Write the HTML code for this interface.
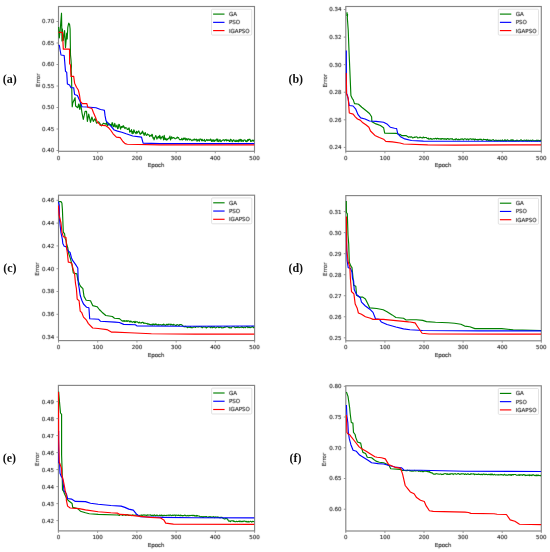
<!DOCTYPE html><html><head><meta charset="utf-8"><title>Convergence curves</title><style>html,body{margin:0;padding:0;background:#fff;}svg{display:block;}.t{font-family:"DejaVu Sans","Liberation Sans",sans-serif;font-size:5.5px;fill:#111;stroke:#111;stroke-width:0.1px;text-rendering:geometricPrecision;}.p{font-family:"Liberation Serif","DejaVu Serif",serif;font-weight:bold;font-size:12px;fill:#111;}</style></head><body>
<svg width="550" height="552" viewBox="0 0 550 552">
<rect width="550" height="552" fill="#fff"/>
<defs><clipPath id="ca"><rect x="57.9" y="6.5" width="196.6" height="144.8"/></clipPath><clipPath id="cb"><rect x="345.2" y="6.5" width="196.1" height="144.8"/></clipPath><clipPath id="cc"><rect x="57.9" y="195.2" width="196.7" height="145.4"/></clipPath><clipPath id="cd"><rect x="345.2" y="195.6" width="196.1" height="145.2"/></clipPath><clipPath id="ce"><rect x="57.8" y="385.4" width="196.8" height="145.5"/></clipPath><clipPath id="cf"><rect x="345.2" y="385.8" width="196.1" height="145.2"/></clipPath><filter id="soft" x="0" y="0" width="550" height="552" filterUnits="userSpaceOnUse"><feConvolveMatrix order="3" kernelMatrix="1 12 1 12 144 12 1 12 1" divisor="196" edgeMode="duplicate" preserveAlpha="false"/></filter></defs>
<rect x="58.5" y="6.5" width="196" height="144.8" fill="none" stroke="#858585" stroke-width="1.15"/>
<polyline points="58.6,27 59.3,38 60.2,30 61.5,13.2 62,41 62.4,29 63.3,40.5 64.6,30.5 65.5,47.7 66.7,33.2 67.2,39 67.8,27.3 68.7,23.2 69.6,24.5 70.1,29 70.5,55 71,60 71.4,66 71.2,70 71.6,80 72,100 72.2,106.8 72.8,103 75.1,97.7 75.6,106 77.8,107.7 78.7,104 79.8,109.5 80.5,102.3 81.9,112.3 83.3,119.5 85.1,111.4 86.5,111.4 87.4,121.4 88.7,114 90.5,122.3 91.9,117 93.3,121.4 95.1,118.6 96.5,123.2 98.7,121.8 101.5,125.9 103.3,123.2 106,124.1 106.61,122.39 107.22,125.87 107.84,125.52 108.45,123.12 109.06,124.33 109.68,124.16 110.29,125.18 110.9,124.5 111.45,126.06 112,122.89 112.55,122.75 113.1,126.79 113.65,125.03 114.2,126.78 114.75,123.3 115.3,125.6 115.85,127.09 116.4,126.2 117,125.02 117.6,128.58 118.2,128.49 118.8,124.44 119.4,124.53 120,127.13 120.6,129.16 121.2,126.61 121.8,127.3 122.35,126.16 122.9,127.37 123.45,125.7 124,126.84 124.55,128.1 125.1,128.6 125.65,127.56 126.2,127.77 126.75,127.93 127.3,129.5 127.9,129.54 128.5,128.96 129.1,127.9 129.7,132.05 130.3,130.94 130.9,131.58 131.5,129.63 132.1,133.73 132.7,131.6 133.25,133.33 133.8,129.78 134.35,130.8 134.9,132.66 135.45,132.61 136,133.69 136.55,131.23 137.1,133.18 137.65,132.42 138.2,131.6 138.8,130.9 139.4,132.51 140,134.17 140.6,134.24 141.2,132.85 141.8,133.49 142.4,131.08 143,132.32 143.6,133.8 144.15,135.34 144.7,133.61 145.25,132.56 145.8,134.47 146.35,135.32 146.9,135.3 147.45,133.97 148,134.39 148.55,134.83 149.1,134.9 149.65,136.57 150.2,135.68 150.75,135.4 151.3,136.2 151.85,134.33 152.4,134.73 152.95,138.24 153.5,137.6 154.07,139.79 154.63,137.78 155.2,136.69 155.77,135.48 156.33,136.94 156.9,139.11 157.47,137.97 158.03,136.72 158.6,136.4 159.16,138.27 159.72,135.39 160.28,136.88 160.85,139.13 161.41,137.47 161.97,137.03 162.53,136.26 163.09,137.74 163.65,139.84 164.22,135.41 164.78,139.28 165.34,139.6 165.9,138.2 166.47,140.05 167.05,139.35 167.62,139.68 168.19,138.29 168.77,138.49 169.34,137.85 169.92,136.07 170.49,139.98 171.06,138.54 171.64,136.76 172.21,138.22 172.78,138.13 173.36,137.51 173.93,137.46 174.51,138.38 175.08,138.79 175.65,138.74 176.23,138 176.8,138.2 177.36,137.06 177.92,137.67 178.48,137.61 179.05,138.76 179.61,139.56 180.17,139.48 180.73,139.56 181.29,139.7 181.85,138.33 182.42,139.93 182.98,139.58 183.54,138.13 184.1,139.3 184.66,138.11 185.22,138.18 185.78,140.17 186.35,138.93 186.91,138.63 187.47,140.04 188.03,139.38 188.59,138.73 189.15,139.04 189.72,140.06 190.28,139.2 190.84,139.54 191.4,140.2 191.97,140.75 192.53,140.08 193.1,139.74 193.66,140.13 194.23,138.96 194.79,139.91 195.36,139.99 195.93,139.39 196.49,139.18 197.06,141.24 197.62,140.23 198.19,139.44 198.75,140.47 199.32,141.02 199.88,138.95 200.45,138.95 201.02,139.28 201.58,140.77 202.15,139.32 202.71,140.73 203.28,140.66 203.84,140.32 204.41,139.47 204.97,141.44 205.54,140.97 206.11,140.24 206.67,139.48 207.24,140.59 207.8,139.93 208.37,140.4 208.93,139.74 209.5,140.2 210.05,140.55 210.6,139.07 211.15,139.7 211.71,141.45 212.26,141.22 212.81,139.75 213.36,141.2 213.91,139.78 214.46,141.42 215.02,140.92 215.57,140.08 216.12,139.67 216.67,139.04 217.22,141.31 217.77,139.13 218.32,141.18 218.88,141.56 219.43,140.55 219.98,139.52 220.53,141.34 221.08,141.62 221.63,140.93 222.18,140.43 222.74,140.1 223.29,140.03 223.84,139.67 224.39,140.9 224.94,140.28 225.49,139.67 226.05,139.44 226.6,140.91 227.15,139.96 227.7,140.5 228.26,140.5 228.82,140.04 229.38,141.46 229.93,141.53 230.49,139.24 231.05,139.71 231.61,140.04 232.17,141.75 232.72,141.22 233.28,140.06 233.84,139.73 234.4,140.93 234.96,141.35 235.52,141.59 236.07,140.06 236.63,141.46 237.19,140.95 237.75,140.42 238.31,141.72 238.87,139.77 239.42,141.04 239.98,139.37 240.54,139.59 241.1,141.52 241.66,139.7 242.22,141.12 242.78,140.7 243.33,141.33 243.89,140.1 244.45,140.02 245.01,139.89 245.57,141.39 246.12,140.7 246.68,141.61 247.24,141.43 247.8,139.48 248.36,140.56 248.92,139.39 249.47,139.22 250.03,139.31 250.59,141.37 251.15,141.16 251.71,141.26 252.27,139.99 252.82,140.71 253.38,141.14 253.94,140.08 254.5,140.4" fill="none" stroke="#008000" stroke-width="1.15" stroke-linejoin="round" stroke-linecap="butt" clip-path="url(#ca)"/>
<polyline points="58.6,45 59.4,45.5 60.1,50 61,55 64.2,55.5 65.5,71.4 66.7,72.3 67.4,84 69.6,85 71,87.7 73.7,87.7 74.6,94.5 77.4,95.5 80.1,101.4 81.9,106.8 87,107 96,107.7 100.5,109.5 103.3,110 104.4,110.4 105.1,115.9 106,120.7 107.6,122.9 110.9,126.2 114.2,130 117.5,131.1 121.8,132.2 126.2,133.8 132.7,136 141.5,137.1 143.1,143.1 160,143.6 254.5,143.6" fill="none" stroke="#0000ff" stroke-width="1.15" stroke-linejoin="round" stroke-linecap="butt" clip-path="url(#ca)"/>
<polyline points="58.6,32.3 62.5,32.3 63.3,49.1 69.5,49.1 69.6,63.6 70.5,65 71,76.4 73.7,76.4 74.6,83.2 76.5,87.3 78.3,90 79.5,95 80.4,101.4 82.4,103.6 86.9,103.6 87.8,107.3 91.9,108.5 93.3,112.3 96,118.6 97.4,122.3 99.6,124.1 100,125.1 105.5,125.6 108.7,127.8 110.9,130.5 113.1,133.8 116.4,137.1 120.2,137.6 122.9,141.5 125.1,143.6 127.3,144.2 160,144.9 254.5,144.9" fill="none" stroke="#ff0000" stroke-width="1.15" stroke-linejoin="round" stroke-linecap="butt" clip-path="url(#ca)"/>
<line x1="58.5" y1="151.3" x2="58.5" y2="153.3" stroke="#858585" stroke-width="0.8"/>
<line x1="97.7" y1="151.3" x2="97.7" y2="153.3" stroke="#858585" stroke-width="0.8"/>
<line x1="136.9" y1="151.3" x2="136.9" y2="153.3" stroke="#858585" stroke-width="0.8"/>
<line x1="176.1" y1="151.3" x2="176.1" y2="153.3" stroke="#858585" stroke-width="0.8"/>
<line x1="215.3" y1="151.3" x2="215.3" y2="153.3" stroke="#858585" stroke-width="0.8"/>
<line x1="254.5" y1="151.3" x2="254.5" y2="153.3" stroke="#858585" stroke-width="0.8"/>
<line x1="56.5" y1="150.5" x2="58.5" y2="150.5" stroke="#858585" stroke-width="0.8"/>
<line x1="56.5" y1="129" x2="58.5" y2="129" stroke="#858585" stroke-width="0.8"/>
<line x1="56.5" y1="107.5" x2="58.5" y2="107.5" stroke="#858585" stroke-width="0.8"/>
<line x1="56.5" y1="86" x2="58.5" y2="86" stroke="#858585" stroke-width="0.8"/>
<line x1="56.5" y1="64.5" x2="58.5" y2="64.5" stroke="#858585" stroke-width="0.8"/>
<line x1="56.5" y1="43" x2="58.5" y2="43" stroke="#858585" stroke-width="0.8"/>
<line x1="56.5" y1="21.5" x2="58.5" y2="21.5" stroke="#858585" stroke-width="0.8"/>
<rect x="211.5" y="9.2" width="40.2" height="25.9" rx="1" fill="#fff" fill-opacity="0.85" stroke="#d6d6d6" stroke-width="0.7"/>
<line x1="213.1" y1="14.1" x2="224.5" y2="14.1" stroke="#008000" stroke-width="1.15"/>
<line x1="213.1" y1="22.35" x2="224.5" y2="22.35" stroke="#0000ff" stroke-width="1.15"/>
<line x1="213.1" y1="30.6" x2="224.5" y2="30.6" stroke="#ff0000" stroke-width="1.15"/>
<rect x="345.8" y="6.5" width="195.5" height="144.8" fill="none" stroke="#858585" stroke-width="1.15"/>
<polyline points="346.3,13.2 347.2,12.9 346.8,15.5 347.6,14.5 347.3,17.5 348.2,29.7 348.9,47.9 349.4,60 349.9,71.8 350.9,95.5 352.5,99.1 353.1,99.4 354.5,103.6 357.5,104 358.5,104.3 361.8,107.2 366.2,110.8 369.5,113.5 371.6,116.8 371.9,121.7 376,123.9 380.4,125.5 383.6,127.7 384.7,133.2 396.7,133.4 398,134 400.5,134.5 401.5,135.6 406,135.6 408.6,137.3 409.16,136.99 409.73,136.84 410.29,137.2 410.85,136.91 411.42,136.81 411.98,137.22 412.54,137.85 413.11,137.71 413.67,137.68 414.23,137.03 414.8,137.42 415.36,137.11 415.92,136.99 416.49,136.92 417.05,137.06 417.61,137.92 418.18,137.81 418.74,137.79 419.3,137.79 419.87,137.07 420.43,137.21 420.99,137.6 421.56,137.73 422.12,137.89 422.68,137.92 423.25,136.98 423.81,137.61 424.37,137.69 424.94,137.5 425.5,137.5 426.23,137.48 426.97,138.2 427.7,138.6 428.26,138.12 428.81,139.15 429.37,139.08 429.93,138.71 430.49,138.42 431.04,139.16 431.6,138.77 432.16,139.16 432.71,139.13 433.27,138.73 433.83,138.63 434.39,138.87 434.94,138.68 435.5,138.37 436.06,138.55 436.61,139.17 437.17,138.26 437.73,138.28 438.29,138.98 438.84,138.58 439.4,138.9 439.96,138.83 440.51,138.69 441.07,139.49 441.63,138.54 442.19,138.81 442.74,138.57 443.3,139.1 443.86,138.69 444.41,138.79 444.97,139.28 445.53,138.78 446.09,139.07 446.64,139.5 447.2,138.55 447.76,138.51 448.31,138.73 448.87,139.38 449.43,139.22 449.99,138.77 450.54,138.9 451.1,138.73 451.66,139.08 452.21,138.59 452.77,139.39 453.33,139.64 453.89,139.72 454.44,139.47 455,139.2 455.56,139.76 456.13,138.64 456.69,138.97 457.26,139.79 457.82,139.57 458.39,139.14 458.95,139.79 459.52,139.41 460.08,139.65 460.65,139.03 461.21,138.92 461.78,139.23 462.34,138.87 462.91,139.17 463.47,139.88 464.04,139.13 464.6,138.75 465.17,138.8 465.73,138.96 466.3,139.7 466.86,139.21 467.43,139.13 467.99,138.9 468.56,139.97 469.12,139.31 469.69,139.06 470.25,138.89 470.82,138.89 471.38,139.04 471.95,139.66 472.51,139.03 473.08,138.91 473.64,139.46 474.21,139.17 474.77,140.08 475.34,139.04 475.9,139.5 476.45,139.55 477,139.87 477.55,139.45 478.1,140.16 478.66,139.57 479.21,139.31 479.76,139.53 480.31,139.1 480.86,139.58 481.41,139.39 481.96,140.18 482.51,140.13 483.06,139.75 483.61,139.21 484.17,139.49 484.72,139.5 485.27,139.48 485.82,139.52 486.37,140.31 486.92,139.45 487.47,139.36 488.02,140.43 488.57,140.02 489.13,140.55 489.68,139.86 490.23,140.48 490.78,140.2 491.33,140.39 491.88,140.35 492.43,140.07 492.98,139.61 493.53,139.77 494.09,140.58 494.64,140.63 495.19,140.68 495.74,139.99 496.29,140.4 496.84,140.59 497.39,140.42 497.94,140.64 498.49,140.32 499.04,140.49 499.6,140.55 500.15,140.06 500.7,140.87 501.25,140.93 501.8,140.4 502.36,139.89 502.91,140.97 503.47,140.96 504.03,140.61 504.58,139.87 505.14,140.9 505.69,139.97 506.25,140.98 506.81,140.63 507.36,139.9 507.92,140.03 508.48,140.6 509.03,140.52 509.59,140.74 510.15,140.96 510.7,140.11 511.26,139.85 511.81,140.96 512.37,139.87 512.93,140.91 513.48,140 514.04,140.83 514.6,140.8 515.15,140.92 515.71,140.53 516.26,140.93 516.82,140.12 517.38,140.68 517.93,140.28 518.49,140.95 519.05,140.82 519.6,140.46 520.16,140.52 520.72,139.93 521.27,139.94 521.83,140.61 522.38,140.49 522.94,140.94 523.5,140.64 524.05,140.08 524.61,140.35 525.17,140.84 525.72,140.55 526.28,139.94 526.84,140.93 527.39,140.92 527.95,140.03 528.5,140.59 529.06,140.4 529.62,140.89 530.17,140.32 530.73,140.23 531.29,140.53 531.84,141.11 532.4,140.07 532.95,140.1 533.51,140.71 534.07,141.03 534.62,140.58 535.18,140.49 535.74,141 536.29,140.91 536.85,140.06 537.41,141.04 537.96,140.22 538.52,140.35 539.07,140.99 539.63,140.5 540.19,140.95 540.74,140.2 541.3,140.6" fill="none" stroke="#008000" stroke-width="1.15" stroke-linejoin="round" stroke-linecap="butt" clip-path="url(#cb)"/>
<polyline points="346.3,50.5 346.4,80 346.6,93.6 347.6,95.8 349.3,105.5 353.1,106 355.8,109.2 358,114.6 360.7,117.9 365.1,119 369.5,121 376,121.4 383.6,122.3 386.9,123.9 390.2,127.2 394.5,128.2 396.6,128.5 397.7,133.5 400.5,136.7 404.8,138.9 411.4,140.5 423.4,141.1 455,141.3 541.3,141.2" fill="none" stroke="#0000ff" stroke-width="1.15" stroke-linejoin="round" stroke-linecap="butt" clip-path="url(#cb)"/>
<polyline points="346.3,73 346.5,93.6 347.5,96.5 348.2,98.3 349.3,113 353.1,114.1 355.3,116.8 357.5,119 360.2,120.1 362.9,122.8 366.2,125 368.9,127.2 370.5,131 374.9,135.4 379.3,137.5 383.6,139.2 385.8,141.4 392.4,141.9 400,143 403.7,144 427.7,144.9 455,145.1 541.3,144.8" fill="none" stroke="#ff0000" stroke-width="1.15" stroke-linejoin="round" stroke-linecap="butt" clip-path="url(#cb)"/>
<line x1="345.8" y1="151.3" x2="345.8" y2="153.3" stroke="#858585" stroke-width="0.8"/>
<line x1="384.9" y1="151.3" x2="384.9" y2="153.3" stroke="#858585" stroke-width="0.8"/>
<line x1="424" y1="151.3" x2="424" y2="153.3" stroke="#858585" stroke-width="0.8"/>
<line x1="463.1" y1="151.3" x2="463.1" y2="153.3" stroke="#858585" stroke-width="0.8"/>
<line x1="502.2" y1="151.3" x2="502.2" y2="153.3" stroke="#858585" stroke-width="0.8"/>
<line x1="541.3" y1="151.3" x2="541.3" y2="153.3" stroke="#858585" stroke-width="0.8"/>
<line x1="343.8" y1="147.4" x2="345.8" y2="147.4" stroke="#858585" stroke-width="0.8"/>
<line x1="343.8" y1="119.82" x2="345.8" y2="119.82" stroke="#858585" stroke-width="0.8"/>
<line x1="343.8" y1="92.24" x2="345.8" y2="92.24" stroke="#858585" stroke-width="0.8"/>
<line x1="343.8" y1="64.66" x2="345.8" y2="64.66" stroke="#858585" stroke-width="0.8"/>
<line x1="343.8" y1="37.08" x2="345.8" y2="37.08" stroke="#858585" stroke-width="0.8"/>
<line x1="343.8" y1="9.5" x2="345.8" y2="9.5" stroke="#858585" stroke-width="0.8"/>
<rect x="498.3" y="9.2" width="40.2" height="25.9" rx="1" fill="#fff" fill-opacity="0.85" stroke="#d6d6d6" stroke-width="0.7"/>
<line x1="499.9" y1="14.1" x2="511.3" y2="14.1" stroke="#008000" stroke-width="1.15"/>
<line x1="499.9" y1="22.35" x2="511.3" y2="22.35" stroke="#0000ff" stroke-width="1.15"/>
<line x1="499.9" y1="30.6" x2="511.3" y2="30.6" stroke="#ff0000" stroke-width="1.15"/>
<rect x="58.5" y="195.2" width="196.1" height="145.4" fill="none" stroke="#858585" stroke-width="1.15"/>
<polyline points="58.5,201.6 61,201.6 61.9,203 62.4,209.4 63.3,232.1 64.6,233.9 65.1,238.5 66,240.3 66.5,243.5 67.8,248 68.7,253.5 70.5,258.9 71.9,264.4 73.3,273 76.9,273.9 77.8,279.8 79.6,284.4 80.7,286.5 82.9,288.7 84,296.4 86.2,300.2 90.5,300.7 92.7,305.6 97.1,306.7 99.3,309.5 102,312.2 105.8,315.5 112.4,316.5 114.5,318.2 119.4,318.6 122.3,321.1 122.85,320.89 123.4,320.68 123.96,321.41 124.51,320.63 125.06,321.32 125.61,321.11 126.17,320.71 126.72,321.38 127.27,320.75 127.82,321.34 128.38,320.86 128.93,320.93 129.48,321.43 130.03,322.02 130.59,321.07 131.14,321.25 131.69,321.85 132.24,322.33 132.8,321.84 133.35,321.62 133.9,321.8 134.45,322.55 135,321.34 135.55,322.56 136.1,321.86 136.65,321.74 137.2,321.79 137.75,322.14 138.3,322.5 138.85,323 139.41,322.18 139.96,322.8 140.52,322.94 141.07,322.63 141.62,322.94 142.18,322.32 142.73,322.38 143.28,322.64 143.84,323.37 144.39,323.08 144.95,322.98 145.5,323.3 146.05,323.56 146.6,323.51 147.15,323.43 147.7,324.26 148.25,324.27 148.8,323.77 149.35,324.37 149.9,324.4 150.45,324.45 151,324.95 151.56,324.75 152.11,324.14 152.66,325.12 153.21,323.93 153.76,324.36 154.31,324.84 154.87,324.01 155.42,324.49 155.97,323.87 156.52,324.76 157.07,324.9 157.62,324.65 158.18,325.08 158.73,324.3 159.28,324.85 159.83,324.72 160.38,324.71 160.93,324.55 161.49,325.09 162.04,325.25 162.59,324.6 163.14,324.88 163.69,324.04 164.24,324.95 164.8,324.89 165.35,325.38 165.9,325.15 166.45,324.41 167,324.56 167.56,324.97 168.11,324.07 168.66,324.7 169.21,324.3 169.76,324.24 170.31,324.17 170.87,325.17 171.42,324.28 171.97,324.46 172.52,324.67 173.07,325.35 173.62,324.26 174.18,324.78 174.73,324.93 175.28,325.41 175.83,325.33 176.38,325.41 176.93,324.6 177.49,324.8 178.04,324.73 178.59,325.48 179.14,325.59 179.69,324.47 180.24,324.52 180.8,324.6 181.35,324.62 181.9,325 182.63,325.61 183.37,326.39 184.1,326.9 184.67,326.59 185.25,326.25 185.82,326.85 186.39,326.8 186.97,327.1 187.54,327.66 188.12,327.31 188.69,327.09 189.26,327.25 189.84,327.36 190.41,326.51 190.98,327.71 191.56,327.57 192.13,327.72 192.71,327.63 193.28,327.09 193.85,327.12 194.43,326.72 195,327.3 195.55,327.49 196.1,326.68 196.65,326.69 197.2,326.88 197.75,326.82 198.31,327.06 198.86,326.66 199.41,326.59 199.96,326.8 200.51,326.72 201.06,327.09 201.61,326.61 202.16,327.8 202.71,327.43 203.26,326.78 203.81,326.92 204.37,327.05 204.92,327.08 205.47,326.74 206.02,327.75 206.57,327.95 207.12,327.21 207.67,327.23 208.22,326.68 208.77,326.7 209.32,327.03 209.88,326.92 210.43,327.71 210.98,326.77 211.53,326.58 212.08,327.87 212.63,327.28 213.18,326.74 213.73,327.3 214.28,326.57 214.83,327.27 215.38,327.9 215.94,327.74 216.49,327.5 217.04,326.89 217.59,327.04 218.14,326.76 218.69,327.6 219.24,327.26 219.79,327.61 220.34,326.98 220.89,326.83 221.44,327.65 222,327.89 222.55,327.7 223.1,327.63 223.65,327.65 224.2,327.54 224.75,326.82 225.3,327.22 225.85,326.99 226.4,326.54 226.95,326.53 227.5,326.88 228.06,326.85 228.61,327.46 229.16,327.82 229.71,327.11 230.26,327.79 230.81,327.86 231.36,327.81 231.91,326.99 232.46,326.78 233.01,326.79 233.56,326.75 234.12,326.75 234.67,327.34 235.22,327.73 235.77,327.64 236.32,327.13 236.87,327.37 237.42,327.58 237.97,326.57 238.52,327.38 239.07,327.73 239.62,327.55 240.18,327.5 240.73,327.12 241.28,326.69 241.83,327.55 242.38,326.91 242.93,327.56 243.48,327.8 244.03,326.99 244.58,327 245.13,327.76 245.69,327.44 246.24,326.67 246.79,326.6 247.34,326.64 247.89,327.69 248.44,327.55 248.99,326.62 249.54,327.57 250.09,327.79 250.64,327.33 251.19,326.9 251.75,327.18 252.3,326.59 252.85,326.43 253.4,327.76 253.95,327.31 254.5,327.1" fill="none" stroke="#008000" stroke-width="1.15" stroke-linejoin="round" stroke-linecap="butt" clip-path="url(#cc)"/>
<polyline points="58.5,201.6 59.2,204.8 59.6,220.3 61,233 62.4,239.4 62.8,243.5 64.2,246.2 66,246.6 67.8,250.7 70.1,252.5 71.5,258 72.8,260.7 75.5,264.4 77.8,268 78.3,283.5 79.1,287.6 80.2,295.3 81.8,300.2 83.5,304 86.7,307.3 88.9,307.8 89.7,318.7 98.7,319.3 100.4,321.2 115,322.1 119.4,322.5 123.7,324.4 135.4,324.7 136.8,325.9 181.9,326.2 254.5,326" fill="none" stroke="#0000ff" stroke-width="1.15" stroke-linejoin="round" stroke-linecap="butt" clip-path="url(#cc)"/>
<polyline points="58.4,205.5 59.2,215.7 61,223 61.9,232.1 63.3,236.6 66,237.5 66.5,247.1 67.4,253.5 68.3,262.1 70.5,262.5 71.9,263.9 73.3,269.8 74.6,273.9 75.5,283.5 76.4,288.7 77.2,299.1 79.1,300.7 80.2,311.1 81.8,312.7 83.5,317.1 86.2,319.8 88.4,323.6 92.7,328 98.2,328.5 106.9,329.6 111.3,332.1 115,332.1 129.5,332.7 151.4,333.7 195,334.1 254.5,334.1" fill="none" stroke="#ff0000" stroke-width="1.15" stroke-linejoin="round" stroke-linecap="butt" clip-path="url(#cc)"/>
<line x1="58.5" y1="340.6" x2="58.5" y2="342.6" stroke="#858585" stroke-width="0.8"/>
<line x1="97.72" y1="340.6" x2="97.72" y2="342.6" stroke="#858585" stroke-width="0.8"/>
<line x1="136.94" y1="340.6" x2="136.94" y2="342.6" stroke="#858585" stroke-width="0.8"/>
<line x1="176.16" y1="340.6" x2="176.16" y2="342.6" stroke="#858585" stroke-width="0.8"/>
<line x1="215.38" y1="340.6" x2="215.38" y2="342.6" stroke="#858585" stroke-width="0.8"/>
<line x1="254.6" y1="340.6" x2="254.6" y2="342.6" stroke="#858585" stroke-width="0.8"/>
<line x1="56.5" y1="337.1" x2="58.5" y2="337.1" stroke="#858585" stroke-width="0.8"/>
<line x1="56.5" y1="314.3" x2="58.5" y2="314.3" stroke="#858585" stroke-width="0.8"/>
<line x1="56.5" y1="291.5" x2="58.5" y2="291.5" stroke="#858585" stroke-width="0.8"/>
<line x1="56.5" y1="268.7" x2="58.5" y2="268.7" stroke="#858585" stroke-width="0.8"/>
<line x1="56.5" y1="245.9" x2="58.5" y2="245.9" stroke="#858585" stroke-width="0.8"/>
<line x1="56.5" y1="223.1" x2="58.5" y2="223.1" stroke="#858585" stroke-width="0.8"/>
<line x1="56.5" y1="200.3" x2="58.5" y2="200.3" stroke="#858585" stroke-width="0.8"/>
<rect x="211.6" y="197.9" width="40.2" height="25.9" rx="1" fill="#fff" fill-opacity="0.85" stroke="#d6d6d6" stroke-width="0.7"/>
<line x1="213.2" y1="202.8" x2="224.6" y2="202.8" stroke="#008000" stroke-width="1.15"/>
<line x1="213.2" y1="211.05" x2="224.6" y2="211.05" stroke="#0000ff" stroke-width="1.15"/>
<line x1="213.2" y1="219.3" x2="224.6" y2="219.3" stroke="#ff0000" stroke-width="1.15"/>
<rect x="345.8" y="195.6" width="195.5" height="145.2" fill="none" stroke="#858585" stroke-width="1.15"/>
<polyline points="346.3,200.9 346.4,212.7 347.3,213.6 348,235 348.7,243.7 349.3,262.3 350.9,266.1 352,267.7 353.1,278.6 353.6,285.2 355.8,286.3 356.4,292.8 356.5,295.2 359.6,297.1 362.8,297.1 365.4,299 367.3,302.8 369.8,307.9 376.8,308.5 383.2,309.8 387,311.7 392.1,314.9 395.9,317.5 403.5,318.3 406.1,320 410,319.7 416.4,319.7 422.7,320.4 426.5,321.6 435.5,322.3 448.2,322.7 454.5,323.2 460.9,324.2 464.7,326.1 469.8,326.7 474.9,328.6 480,328.6 501.7,328.6 513.2,329.9 541.3,330.5" fill="none" stroke="#008000" stroke-width="1.15" stroke-linejoin="round" stroke-linecap="butt" clip-path="url(#cd)"/>
<polyline points="346.4,232.5 346.6,245 347.1,260.1 348.2,267.7 350.4,268.3 352,272.1 352.5,278.6 353.6,280.8 354.2,289.5 356.5,294.5 360.3,297.7 361.5,302.2 365.4,306 369.8,309.2 373,312.4 375.5,318.7 379.4,319.4 381.3,321.9 387,324.5 395.9,327 403.5,328.9 410,329.7 422.7,330.5 480,330.9 541.3,330.9" fill="none" stroke="#0000ff" stroke-width="1.15" stroke-linejoin="round" stroke-linecap="butt" clip-path="url(#cd)"/>
<polyline points="346.4,216.4 346.8,250.3 348.2,262.3 349.8,266.6 350.4,278.6 351.5,291.7 352,292 353.9,293.9 355.2,304.1 357.1,307.9 358.4,313 361.5,314.3 365.4,316.8 370.5,318.3 373,319.4 383.2,319.4 395.9,320.6 408.6,321.9 410,322 415.1,322.9 417.6,326.7 422.1,333.3 429.1,334 541.3,334.1" fill="none" stroke="#ff0000" stroke-width="1.15" stroke-linejoin="round" stroke-linecap="butt" clip-path="url(#cd)"/>
<line x1="345.8" y1="340.8" x2="345.8" y2="342.8" stroke="#858585" stroke-width="0.8"/>
<line x1="384.9" y1="340.8" x2="384.9" y2="342.8" stroke="#858585" stroke-width="0.8"/>
<line x1="424" y1="340.8" x2="424" y2="342.8" stroke="#858585" stroke-width="0.8"/>
<line x1="463.1" y1="340.8" x2="463.1" y2="342.8" stroke="#858585" stroke-width="0.8"/>
<line x1="502.2" y1="340.8" x2="502.2" y2="342.8" stroke="#858585" stroke-width="0.8"/>
<line x1="541.3" y1="340.8" x2="541.3" y2="342.8" stroke="#858585" stroke-width="0.8"/>
<line x1="343.8" y1="337.8" x2="345.8" y2="337.8" stroke="#858585" stroke-width="0.8"/>
<line x1="343.8" y1="316.77" x2="345.8" y2="316.77" stroke="#858585" stroke-width="0.8"/>
<line x1="343.8" y1="295.73" x2="345.8" y2="295.73" stroke="#858585" stroke-width="0.8"/>
<line x1="343.8" y1="274.7" x2="345.8" y2="274.7" stroke="#858585" stroke-width="0.8"/>
<line x1="343.8" y1="253.67" x2="345.8" y2="253.67" stroke="#858585" stroke-width="0.8"/>
<line x1="343.8" y1="232.63" x2="345.8" y2="232.63" stroke="#858585" stroke-width="0.8"/>
<line x1="343.8" y1="211.6" x2="345.8" y2="211.6" stroke="#858585" stroke-width="0.8"/>
<rect x="498.3" y="198.3" width="40.2" height="25.9" rx="1" fill="#fff" fill-opacity="0.85" stroke="#d6d6d6" stroke-width="0.7"/>
<line x1="499.9" y1="203.2" x2="511.3" y2="203.2" stroke="#008000" stroke-width="1.15"/>
<line x1="499.9" y1="211.45" x2="511.3" y2="211.45" stroke="#0000ff" stroke-width="1.15"/>
<line x1="499.9" y1="219.7" x2="511.3" y2="219.7" stroke="#ff0000" stroke-width="1.15"/>
<rect x="58.4" y="385.4" width="196.2" height="145.5" fill="none" stroke="#858585" stroke-width="1.15"/>
<polyline points="58.6,391.6 59.6,403 60.5,413 61.6,414.4 61.6,455 62.1,470 62.5,489.9 63.5,491 64.6,494 67,499.1 68.9,501 72.1,503.5 72.7,507.4 77.8,508.6 80.4,511.2 85.5,512.8 89.3,513.7 98.2,514.4 117.3,515 117.86,514.76 118.42,515.2 118.98,515.2 119.54,515.37 120.1,514.71 120.67,514.76 121.23,514.68 121.79,514.76 122.35,515.28 122.91,514.68 123.47,515.08 124.03,514.77 124.59,514.86 125.15,515 125.71,515.41 126.28,515.19 126.84,514.6 127.4,514.86 127.96,514.74 128.52,515.47 129.08,515.41 129.64,515.41 130.2,515.44 130.76,515.36 131.32,515.57 131.89,515.42 132.45,514.89 133.01,515.49 133.57,515.13 134.13,515.4 134.69,515.22 135.25,515.09 135.81,515.03 136.37,515.1 136.93,514.98 137.5,514.79 138.06,515.5 138.62,515.48 139.18,515.68 139.74,515.39 140.3,515.2 140.85,515.26 141.4,515.46 141.96,514.85 142.51,515.39 143.06,515.17 143.61,514.9 144.17,514.93 144.72,515.26 145.27,514.99 145.82,515.2 146.37,515.35 146.93,515.15 147.48,514.89 148.03,515.25 148.58,515 149.14,515.01 149.69,514.97 150.24,515.15 150.79,514.86 151.34,515.44 151.9,515.75 152.45,515.19 153,515.52 153.55,515.74 154.11,514.85 154.66,514.96 155.21,515.63 155.76,515.66 156.31,515.47 156.87,514.99 157.42,515.25 157.97,515.71 158.52,515.73 159.08,515.65 159.63,515.06 160.18,515.71 160.73,515.24 161.28,515.59 161.84,515.01 162.39,515.85 162.94,515.49 163.49,515.61 164.05,515.1 164.6,515.51 165.15,515.48 165.7,515.5 166.25,515.27 166.81,515.64 167.36,515.26 167.91,515.22 168.46,515.09 169.02,515.62 169.57,515.05 170.12,515.17 170.67,515.01 171.22,515.59 171.78,515.51 172.33,515.5 172.88,515 173.43,515.41 173.99,515.31 174.54,515.07 175.09,514.98 175.64,515.98 176.19,515.11 176.75,515.29 177.3,515.27 177.85,515.6 178.4,515.08 178.96,515.48 179.51,515.38 180.06,515.85 180.61,515.03 181.16,515.36 181.72,515.53 182.27,516.01 182.82,515.56 183.37,515.52 183.93,515.72 184.48,515.35 185.03,515.09 185.58,515.57 186.13,515.98 186.69,515.81 187.24,515.34 187.79,515.77 188.34,515.94 188.9,515.35 189.45,515.68 190,515.6 190.56,515.48 191.11,515.39 191.67,515.46 192.22,515.4 192.78,515.58 193.34,515.29 193.89,515.67 194.45,515.39 195.01,516.08 195.56,515.95 196.12,515.38 196.68,516.17 197.23,515.62 197.79,515.93 198.34,516.03 198.9,516 199.55,516.28 200.2,516.9 200.75,516.7 201.31,516.86 201.86,516.57 202.42,517.3 202.97,516.56 203.52,517.29 204.08,516.69 204.63,516.79 205.18,516.88 205.74,516.54 206.29,516.64 206.85,516.88 207.4,516.98 207.95,517.42 208.51,517.54 209.06,516.61 209.62,517.11 210.17,516.71 210.72,517.4 211.28,516.93 211.83,517.51 212.38,517.17 212.94,516.76 213.49,516.65 214.05,516.9 214.6,517.53 215.15,516.83 215.71,517.17 216.26,517.07 216.82,517.05 217.37,517.52 217.92,516.94 218.48,517.46 219.03,517.42 219.58,517.69 220.14,517.29 220.69,517.7 221.25,517.23 221.8,517.3 222.43,517.77 223.07,518.22 223.7,518.5 224.33,518.91 224.97,519.03 225.6,518.32 226.23,518.4 226.87,518.87 227.5,518.9 228.15,520.31 228.8,521.1 229.36,521.15 229.92,520.93 230.48,521.6 231.03,520.95 231.59,520.75 232.15,520.73 232.71,520.72 233.27,521.43 233.83,520.82 234.39,521.45 234.95,521.61 235.5,521.76 236.06,521.58 236.62,521.21 237.18,521.42 237.74,521.64 238.3,521.54 238.86,521.13 239.42,521.61 239.97,520.97 240.53,521.18 241.09,521.88 241.65,521.37 242.21,521.18 242.77,521.71 243.33,521.39 243.88,520.96 244.44,520.99 245,521.24 245.56,521.32 246.12,521.94 246.68,521.26 247.24,521.88 247.8,521.9 248.35,521.47 248.91,522.06 249.47,521.84 250.03,521.58 250.59,521.37 251.15,521.58 251.71,522.04 252.27,521.68 252.82,521.35 253.38,521.55 253.94,521.66 254.5,521.7" fill="none" stroke="#008000" stroke-width="1.15" stroke-linejoin="round" stroke-linecap="butt" clip-path="url(#ce)"/>
<polyline points="58.6,431 58.7,462.5 59.6,463.5 60,473.2 61.1,476.1 62.4,478 63.3,484 64,490.6 66.4,494 67.6,498.5 71.5,499.1 75.3,501.4 85.5,501.6 90.5,503.2 98.2,504.2 110.9,505.5 121.1,506.1 124.9,507.4 128.8,509.1 133.3,510.1 136.5,514.2 140.3,516.7 163.2,517.4 195,517.7 254.5,517.9" fill="none" stroke="#0000ff" stroke-width="1.15" stroke-linejoin="round" stroke-linecap="butt" clip-path="url(#ce)"/>
<polyline points="58.5,392 58.7,440 59.3,462.3 61.5,468.1 61.8,474.6 63.3,480.5 64.7,487.7 65.1,490.2 66.2,494.3 66.4,500.4 67.6,506.1 70.2,508 79.1,508.6 85.5,509.9 98.2,511.8 110.9,512.8 117.3,513.1 119.8,514.4 125,514.6 137.7,516.1 150.5,517.4 160.6,518 163.8,519.9 165.7,523.1 173.4,524.1 254.5,524.3" fill="none" stroke="#ff0000" stroke-width="1.15" stroke-linejoin="round" stroke-linecap="butt" clip-path="url(#ce)"/>
<line x1="58.4" y1="530.9" x2="58.4" y2="532.9" stroke="#858585" stroke-width="0.8"/>
<line x1="97.64" y1="530.9" x2="97.64" y2="532.9" stroke="#858585" stroke-width="0.8"/>
<line x1="136.88" y1="530.9" x2="136.88" y2="532.9" stroke="#858585" stroke-width="0.8"/>
<line x1="176.12" y1="530.9" x2="176.12" y2="532.9" stroke="#858585" stroke-width="0.8"/>
<line x1="215.36" y1="530.9" x2="215.36" y2="532.9" stroke="#858585" stroke-width="0.8"/>
<line x1="254.6" y1="530.9" x2="254.6" y2="532.9" stroke="#858585" stroke-width="0.8"/>
<line x1="56.4" y1="520.6" x2="58.4" y2="520.6" stroke="#858585" stroke-width="0.8"/>
<line x1="56.4" y1="503.6" x2="58.4" y2="503.6" stroke="#858585" stroke-width="0.8"/>
<line x1="56.4" y1="486.6" x2="58.4" y2="486.6" stroke="#858585" stroke-width="0.8"/>
<line x1="56.4" y1="469.6" x2="58.4" y2="469.6" stroke="#858585" stroke-width="0.8"/>
<line x1="56.4" y1="452.6" x2="58.4" y2="452.6" stroke="#858585" stroke-width="0.8"/>
<line x1="56.4" y1="435.6" x2="58.4" y2="435.6" stroke="#858585" stroke-width="0.8"/>
<line x1="56.4" y1="418.6" x2="58.4" y2="418.6" stroke="#858585" stroke-width="0.8"/>
<line x1="56.4" y1="401.6" x2="58.4" y2="401.6" stroke="#858585" stroke-width="0.8"/>
<rect x="211.6" y="388.1" width="40.2" height="25.9" rx="1" fill="#fff" fill-opacity="0.85" stroke="#d6d6d6" stroke-width="0.7"/>
<line x1="213.2" y1="393" x2="224.6" y2="393" stroke="#008000" stroke-width="1.15"/>
<line x1="213.2" y1="401.25" x2="224.6" y2="401.25" stroke="#0000ff" stroke-width="1.15"/>
<line x1="213.2" y1="409.5" x2="224.6" y2="409.5" stroke="#ff0000" stroke-width="1.15"/>
<rect x="345.8" y="385.8" width="195.5" height="145.2" fill="none" stroke="#858585" stroke-width="1.15"/>
<polyline points="346.3,392 346.6,392.5 348,396.4 349.6,407.3 350.2,413.8 351.3,422.5 352.9,423.1 353.5,432.4 355.1,434.5 355.8,437.6 357.5,442 360.7,443.1 361.8,448.5 362.9,452.4 365.6,453.5 367.3,457.3 371.6,457.8 373.8,459.5 376,461.1 379.3,462.2 383.6,462.7 385.8,463.8 389.1,465.5 390.7,468.7 400,469.4 402.6,470.5 403.16,470.38 403.71,470.52 404.27,470.47 404.83,470.52 405.38,470.5 405.94,470.76 406.5,470.38 407.05,470.77 407.61,470.17 408.17,470.48 408.72,470.53 409.28,470.35 409.83,470.97 410.39,470.55 410.95,471.05 411.5,471.23 412.06,470.55 412.62,471.21 413.17,471.14 413.73,471.02 414.29,470.39 414.84,470.84 415.4,470.9 415.95,471.05 416.5,470.75 417.06,470.7 417.61,470.81 418.16,470.79 418.71,471.34 419.27,470.93 419.82,471.03 420.37,471.28 420.92,471.61 421.47,470.98 422.03,470.76 422.58,471.71 423.13,471.6 423.68,471.58 424.23,471.34 424.79,471.08 425.34,471.02 425.89,471.2 426.44,471.38 427,471.01 427.55,471.67 428.1,471.5 428.73,471.94 429.37,471.45 430,472.49 430.63,472.36 431.27,473 431.9,472.8 432.53,473.21 433.17,473.96 433.8,474.1 434.36,474.05 434.91,474.21 435.47,474.1 436.03,473.62 436.59,473.74 437.14,473.83 437.7,474.01 438.26,473.97 438.81,474.14 439.37,474.26 439.93,474 440.49,473.92 441.04,474.11 441.6,474.55 442.16,474.38 442.71,474.26 443.27,474.42 443.83,473.83 444.39,473.7 444.94,473.69 445.5,473.72 446.06,473.61 446.61,474.23 447.17,474.52 447.73,473.71 448.29,474.29 448.84,474.54 449.4,474.37 449.96,473.75 450.51,474.24 451.07,473.86 451.63,473.78 452.19,473.61 452.74,474.13 453.3,474.52 453.86,473.7 454.41,473.75 454.97,473.99 455.53,473.64 456.09,474.06 456.64,474.33 457.2,474.06 457.76,473.64 458.31,473.63 458.87,473.8 459.43,474.27 459.99,474.52 460.54,474.1 461.1,473.7 461.66,473.82 462.21,474.02 462.77,473.71 463.33,473.72 463.89,474.03 464.44,474.44 465,474.1 465.55,473.85 466.1,474.5 466.66,474.5 467.21,474.07 467.76,473.87 468.31,473.84 468.86,474.33 469.42,474.5 469.97,474.54 470.52,473.9 471.07,474.13 471.62,473.73 472.18,474.03 472.73,474.03 473.28,473.86 473.83,473.83 474.38,474.75 474.94,474.07 475.49,474.28 476.04,474.32 476.59,474.27 477.14,474.39 477.7,474.32 478.25,474.31 478.8,473.91 479.35,474.48 479.9,474.52 480.46,474.59 481.01,474.18 481.56,474.34 482.11,474.7 482.66,474.63 483.22,473.96 483.77,474.25 484.32,474.1 484.87,474.65 485.42,474.35 485.98,474.35 486.53,474.19 487.08,474.43 487.63,474.7 488.18,474.62 488.74,474.22 489.29,474.41 489.84,474.64 490.39,474.08 490.94,474.94 491.5,474.07 492.05,474.68 492.6,474.21 493.15,475.03 493.7,474.78 494.26,474.32 494.81,474.61 495.36,474.96 495.91,474.98 496.46,474.79 497.02,474.78 497.57,474.89 498.12,475.08 498.67,474.68 499.22,474.79 499.78,474.99 500.33,474.71 500.88,474.43 501.43,474.8 501.98,474.57 502.54,474.95 503.09,474.99 503.64,475.16 504.19,474.37 504.74,474.29 505.3,475.21 505.85,475.02 506.4,474.8 506.95,475.31 507.51,475.13 508.06,475.28 508.62,474.49 509.17,474.53 509.72,474.97 510.28,475.12 510.83,474.49 511.39,475.33 511.94,474.63 512.49,474.61 513.05,474.85 513.6,474.61 514.16,474.52 514.71,474.52 515.26,474.49 515.82,474.61 516.37,475.15 516.93,475.26 517.48,475.26 518.03,474.92 518.59,475.26 519.14,474.63 519.7,475.39 520.25,474.95 520.8,474.67 521.36,474.94 521.91,474.76 522.47,475.32 523.02,474.96 523.57,474.61 524.13,474.8 524.68,474.69 525.23,475.58 525.79,475.04 526.34,475.43 526.9,475.25 527.45,475.07 528,475.4 528.56,475.23 529.11,474.73 529.67,475.69 530.22,475.06 530.77,475.37 531.33,475.15 531.88,475.7 532.44,474.91 532.99,474.81 533.54,474.81 534.1,475.18 534.65,475.63 535.21,475.24 535.76,475.74 536.31,474.96 536.87,475.79 537.42,475 537.98,475.73 538.53,475.05 539.08,475.44 539.64,475.49 540.19,475.85 540.75,475.3 541.3,475.4" fill="none" stroke="#008000" stroke-width="1.15" stroke-linejoin="round" stroke-linecap="butt" clip-path="url(#cf)"/>
<polyline points="346.4,405 346.9,416 347.8,422.5 348.3,432 349.3,438.7 350.9,444.7 353.1,450.2 356.4,451.3 359.6,455.1 364,457.8 368.4,460.5 371.6,462.7 378.2,463.6 383.6,464 389.1,465.5 395,467 401.4,467.7 403.9,470 420.5,470.3 465,471.2 541.3,471.5" fill="none" stroke="#0000ff" stroke-width="1.15" stroke-linejoin="round" stroke-linecap="butt" clip-path="url(#cf)"/>
<polyline points="346.4,414.9 346.9,432.4 348,434 349.6,434.5 350.9,436.3 355.3,442 359.1,446.9 361.3,448.5 366.2,451.3 370.5,454 374.9,456.7 377.1,457.3 381.5,457.8 385.3,458.9 386.9,461.6 388.5,464.4 394.5,467.1 400.7,468.4 402.6,474.1 405.2,485.5 407.7,488.7 410.3,491.9 414.1,493.8 416.6,497.6 420.5,500.2 424.3,501.5 426.2,505.9 429.4,510.7 433.2,511.4 465,512.1 468.5,512.5 470.8,513.4 494,513.7 497.1,514.2 506.4,514.5 510.2,519.9 514.9,521.2 519.5,524.2 541.3,524.6" fill="none" stroke="#ff0000" stroke-width="1.15" stroke-linejoin="round" stroke-linecap="butt" clip-path="url(#cf)"/>
<line x1="345.8" y1="531" x2="345.8" y2="533" stroke="#858585" stroke-width="0.8"/>
<line x1="384.9" y1="531" x2="384.9" y2="533" stroke="#858585" stroke-width="0.8"/>
<line x1="424" y1="531" x2="424" y2="533" stroke="#858585" stroke-width="0.8"/>
<line x1="463.1" y1="531" x2="463.1" y2="533" stroke="#858585" stroke-width="0.8"/>
<line x1="502.2" y1="531" x2="502.2" y2="533" stroke="#858585" stroke-width="0.8"/>
<line x1="541.3" y1="531" x2="541.3" y2="533" stroke="#858585" stroke-width="0.8"/>
<line x1="343.8" y1="509.23" x2="345.8" y2="509.23" stroke="#858585" stroke-width="0.8"/>
<line x1="343.8" y1="478.5" x2="345.8" y2="478.5" stroke="#858585" stroke-width="0.8"/>
<line x1="343.8" y1="447.77" x2="345.8" y2="447.77" stroke="#858585" stroke-width="0.8"/>
<line x1="343.8" y1="417.03" x2="345.8" y2="417.03" stroke="#858585" stroke-width="0.8"/>
<line x1="343.8" y1="386.3" x2="345.8" y2="386.3" stroke="#858585" stroke-width="0.8"/>
<rect x="498.3" y="388.5" width="40.2" height="25.9" rx="1" fill="#fff" fill-opacity="0.85" stroke="#d6d6d6" stroke-width="0.7"/>
<line x1="499.9" y1="393.4" x2="511.3" y2="393.4" stroke="#008000" stroke-width="1.15"/>
<line x1="499.9" y1="401.65" x2="511.3" y2="401.65" stroke="#0000ff" stroke-width="1.15"/>
<line x1="499.9" y1="409.9" x2="511.3" y2="409.9" stroke="#ff0000" stroke-width="1.15"/>
<g filter="url(#soft)">
<text class="t" x="58.5" y="159.5" text-anchor="middle">0</text>
<text class="t" x="97.7" y="159.5" text-anchor="middle">100</text>
<text class="t" x="136.9" y="159.5" text-anchor="middle">200</text>
<text class="t" x="176.1" y="159.5" text-anchor="middle">300</text>
<text class="t" x="215.3" y="159.5" text-anchor="middle">400</text>
<text class="t" x="254.5" y="159.5" text-anchor="middle">500</text>
<text class="t" x="54.2" y="152.45" text-anchor="end">0.40</text>
<text class="t" x="54.2" y="130.95" text-anchor="end">0.45</text>
<text class="t" x="54.2" y="109.45" text-anchor="end">0.50</text>
<text class="t" x="54.2" y="87.95" text-anchor="end">0.55</text>
<text class="t" x="54.2" y="66.45" text-anchor="end">0.60</text>
<text class="t" x="54.2" y="44.95" text-anchor="end">0.65</text>
<text class="t" x="54.2" y="23.45" text-anchor="end">0.70</text>
<text class="t" x="156.1" y="167.4" text-anchor="middle">Epoch</text>
<text class="t" transform="translate(39.6,80.3) rotate(-90)" text-anchor="middle">Error</text>
<text class="t" x="228.9" y="16.05">GA</text>
<text class="t" x="228.9" y="24.3">PSO</text>
<text class="t" x="228.9" y="32.55">IGAPSO</text>
<text class="t" x="345.8" y="159.5" text-anchor="middle">0</text>
<text class="t" x="384.9" y="159.5" text-anchor="middle">100</text>
<text class="t" x="424" y="159.5" text-anchor="middle">200</text>
<text class="t" x="463.1" y="159.5" text-anchor="middle">300</text>
<text class="t" x="502.2" y="159.5" text-anchor="middle">400</text>
<text class="t" x="541.3" y="159.5" text-anchor="middle">500</text>
<text class="t" x="341.5" y="149.35" text-anchor="end">0.24</text>
<text class="t" x="341.5" y="121.77" text-anchor="end">0.26</text>
<text class="t" x="341.5" y="94.19" text-anchor="end">0.28</text>
<text class="t" x="341.5" y="66.61" text-anchor="end">0.30</text>
<text class="t" x="341.5" y="39.03" text-anchor="end">0.32</text>
<text class="t" x="341.5" y="11.45" text-anchor="end">0.34</text>
<text class="t" x="443.15" y="167.4" text-anchor="middle">Epoch</text>
<text class="t" transform="translate(326.6,80.7) rotate(-90)" text-anchor="middle">Error</text>
<text class="t" x="515.7" y="16.05">GA</text>
<text class="t" x="515.7" y="24.3">PSO</text>
<text class="t" x="515.7" y="32.55">IGAPSO</text>
<text class="t" x="58.5" y="348.8" text-anchor="middle">0</text>
<text class="t" x="97.72" y="348.8" text-anchor="middle">100</text>
<text class="t" x="136.94" y="348.8" text-anchor="middle">200</text>
<text class="t" x="176.16" y="348.8" text-anchor="middle">300</text>
<text class="t" x="215.38" y="348.8" text-anchor="middle">400</text>
<text class="t" x="254.6" y="348.8" text-anchor="middle">500</text>
<text class="t" x="54.2" y="339.05" text-anchor="end">0.34</text>
<text class="t" x="54.2" y="316.25" text-anchor="end">0.36</text>
<text class="t" x="54.2" y="293.45" text-anchor="end">0.38</text>
<text class="t" x="54.2" y="270.65" text-anchor="end">0.40</text>
<text class="t" x="54.2" y="247.85" text-anchor="end">0.42</text>
<text class="t" x="54.2" y="225.05" text-anchor="end">0.44</text>
<text class="t" x="54.2" y="202.25" text-anchor="end">0.46</text>
<text class="t" x="156.15" y="356.7" text-anchor="middle">Epoch</text>
<text class="t" transform="translate(38.9,269.1) rotate(-90)" text-anchor="middle">Error</text>
<text class="t" x="229" y="204.75">GA</text>
<text class="t" x="229" y="213">PSO</text>
<text class="t" x="229" y="221.25">IGAPSO</text>
<text class="t" x="345.8" y="349" text-anchor="middle">0</text>
<text class="t" x="384.9" y="349" text-anchor="middle">100</text>
<text class="t" x="424" y="349" text-anchor="middle">200</text>
<text class="t" x="463.1" y="349" text-anchor="middle">300</text>
<text class="t" x="502.2" y="349" text-anchor="middle">400</text>
<text class="t" x="541.3" y="349" text-anchor="middle">500</text>
<text class="t" x="341.5" y="339.75" text-anchor="end">0.25</text>
<text class="t" x="341.5" y="318.72" text-anchor="end">0.26</text>
<text class="t" x="341.5" y="297.68" text-anchor="end">0.27</text>
<text class="t" x="341.5" y="276.65" text-anchor="end">0.28</text>
<text class="t" x="341.5" y="255.62" text-anchor="end">0.29</text>
<text class="t" x="341.5" y="234.58" text-anchor="end">0.30</text>
<text class="t" x="341.5" y="213.55" text-anchor="end">0.31</text>
<text class="t" x="443.15" y="356.9" text-anchor="middle">Epoch</text>
<text class="t" transform="translate(326.6,269.3) rotate(-90)" text-anchor="middle">Error</text>
<text class="t" x="515.7" y="205.15">GA</text>
<text class="t" x="515.7" y="213.4">PSO</text>
<text class="t" x="515.7" y="221.65">IGAPSO</text>
<text class="t" x="58.4" y="539.1" text-anchor="middle">0</text>
<text class="t" x="97.64" y="539.1" text-anchor="middle">100</text>
<text class="t" x="136.88" y="539.1" text-anchor="middle">200</text>
<text class="t" x="176.12" y="539.1" text-anchor="middle">300</text>
<text class="t" x="215.36" y="539.1" text-anchor="middle">400</text>
<text class="t" x="254.6" y="539.1" text-anchor="middle">500</text>
<text class="t" x="54.1" y="522.55" text-anchor="end">0.42</text>
<text class="t" x="54.1" y="505.55" text-anchor="end">0.43</text>
<text class="t" x="54.1" y="488.55" text-anchor="end">0.44</text>
<text class="t" x="54.1" y="471.55" text-anchor="end">0.45</text>
<text class="t" x="54.1" y="454.55" text-anchor="end">0.46</text>
<text class="t" x="54.1" y="437.55" text-anchor="end">0.47</text>
<text class="t" x="54.1" y="420.55" text-anchor="end">0.48</text>
<text class="t" x="54.1" y="403.55" text-anchor="end">0.49</text>
<text class="t" x="156.1" y="547" text-anchor="middle">Epoch</text>
<text class="t" transform="translate(38.9,459.2) rotate(-90)" text-anchor="middle">Error</text>
<text class="t" x="229" y="394.95">GA</text>
<text class="t" x="229" y="403.2">PSO</text>
<text class="t" x="229" y="411.45">IGAPSO</text>
<text class="t" x="345.8" y="539.2" text-anchor="middle">0</text>
<text class="t" x="384.9" y="539.2" text-anchor="middle">100</text>
<text class="t" x="424" y="539.2" text-anchor="middle">200</text>
<text class="t" x="463.1" y="539.2" text-anchor="middle">300</text>
<text class="t" x="502.2" y="539.2" text-anchor="middle">400</text>
<text class="t" x="541.3" y="539.2" text-anchor="middle">500</text>
<text class="t" x="341.5" y="511.18" text-anchor="end">0.60</text>
<text class="t" x="341.5" y="480.45" text-anchor="end">0.65</text>
<text class="t" x="341.5" y="449.72" text-anchor="end">0.70</text>
<text class="t" x="341.5" y="418.98" text-anchor="end">0.75</text>
<text class="t" x="341.5" y="388.25" text-anchor="end">0.80</text>
<text class="t" x="443.15" y="547.1" text-anchor="middle">Epoch</text>
<text class="t" transform="translate(326,459.5) rotate(-90)" text-anchor="middle">Error</text>
<text class="t" x="515.7" y="395.35">GA</text>
<text class="t" x="515.7" y="403.6">PSO</text>
<text class="t" x="515.7" y="411.85">IGAPSO</text>
</g>
<text class="p" x="2.8" y="82.8">(a)</text>
<text class="p" x="288.4" y="82.8">(b)</text>
<text class="p" x="3.3" y="272.2">(c)</text>
<text class="p" x="288.4" y="272.2">(d)</text>
<text class="p" x="2.8" y="462.1">(e)</text>
<text class="p" x="289.6" y="462.1">(f)</text>
</svg></body></html>
